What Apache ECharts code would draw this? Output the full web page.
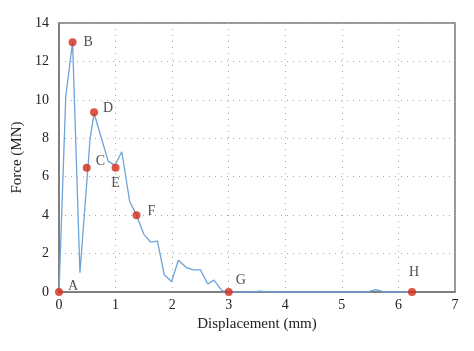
<!DOCTYPE html>
<html>
<head>
  <meta charset="utf-8">
  <title>Force - Displacement</title>
  <script src="https://cdn.jsdelivr.net/npm/echarts@6/dist/echarts.min.js"></script>
  <style>
    html, body { margin: 0; padding: 0; background: #fff; }
    #chart { width: 474px; height: 351px; }
  </style>
</head>
<body>
<div id="chart"></div>
<script type="text/javascript">
  // curve
  var dispX = [0, 0.12, 0.24, 0.37, 0.55, 0.62, 0.75, 0.87, 0.99, 1.11, 1.25, 1.37, 1.50, 1.62, 1.74, 1.86, 1.99, 2.11, 2.26, 2.38, 2.50, 2.63, 2.74, 2.88, 3.0, 3.4, 3.55, 3.7, 5.45, 5.6, 5.75, 6.24];
  var forceY = [0, 10.2, 13.0, 1.0, 8.0, 9.3, 8.0, 6.8, 6.6, 7.3, 4.7, 4.0, 3.0, 2.6, 2.65, 0.9, 0.55, 1.65, 1.25, 1.15, 1.15, 0.42, 0.62, 0.07, 0, 0, 0.05, 0, 0, 0.12, 0, 0];

  // labelled points
  var pointNames = ['A', 'B', 'C', 'D', 'E', 'F', 'G', 'H'];
  var pointX = [0, 0.24, 0.49, 0.62, 1.0, 1.37, 3.0, 6.24];
  var pointY = [0, 13.0, 6.47, 9.35, 6.47, 4.0, 0, 0];
  var labelPos = ['right', 'right', 'right', 'right', 'bottom', 'right', 'right', 'top'];
  var labelOff = [[0, -6], [2, 0], [0, -6], [0, -4], [0, 0], [2, -4], [-2, -12], [2, -4]];

  var curve = dispX.map(function (x, i) { return [x, forceY[i]]; });
  var points = pointNames.map(function (n, i) {
    return {
      name: n,
      value: [pointX[i], pointY[i]],
      label: { position: labelPos[i], offset: labelOff[i] }
    };
  });

  var chart = echarts.init(document.getElementById('chart'));
  var font = 'Liberation Serif';
  chart.setOption({
    animation: false,
    textStyle: { fontFamily: font },
    grid: { left: 59, right: 19, top: 23, bottom: 59, show: true, borderColor: '#777', borderWidth: 1.5 },
    xAxis: {
      type: 'value', min: 0, max: 7, interval: 1,
      name: 'Displacement (mm)', nameLocation: 'middle', nameGap: 25,
      nameTextStyle: { fontFamily: font, fontSize: 15, color: '#222' },
      axisLine: { lineStyle: { color: '#777', width: 1.5 } },
      axisTick: { show: false },
      axisLabel: { fontFamily: font, fontSize: 14, color: '#222', margin: 6 },
      splitLine: { lineStyle: { type: [1, 5], color: '#aaa' } }
    },
    yAxis: {
      type: 'value', min: 0, max: 14, interval: 2,
      name: 'Force (MN)', nameLocation: 'middle', nameGap: 34,
      nameTextStyle: { fontFamily: font, fontSize: 15, color: '#222' },
      axisLine: { show: true, lineStyle: { color: '#777', width: 1.5 } },
      axisTick: { show: false },
      axisLabel: { fontFamily: font, fontSize: 14, color: '#222', margin: 10 },
      splitLine: { lineStyle: { type: [1, 5], color: '#aaa' } }
    },
    series: [
      {
        type: 'line',
        data: curve,
        symbol: 'none',
        lineStyle: { color: '#6ea3d8', width: 1.3 },
        z: 2
      },
      {
        type: 'scatter',
        data: points,
        symbolSize: 8,
        itemStyle: { color: '#d42a17' },
        label: {
          show: true,
          formatter: '{b}',
          fontFamily: font,
          fontSize: 14,
          color: '#222'
        },
        z: 3
      }
    ]
  });
</script>
</body>
</html>
